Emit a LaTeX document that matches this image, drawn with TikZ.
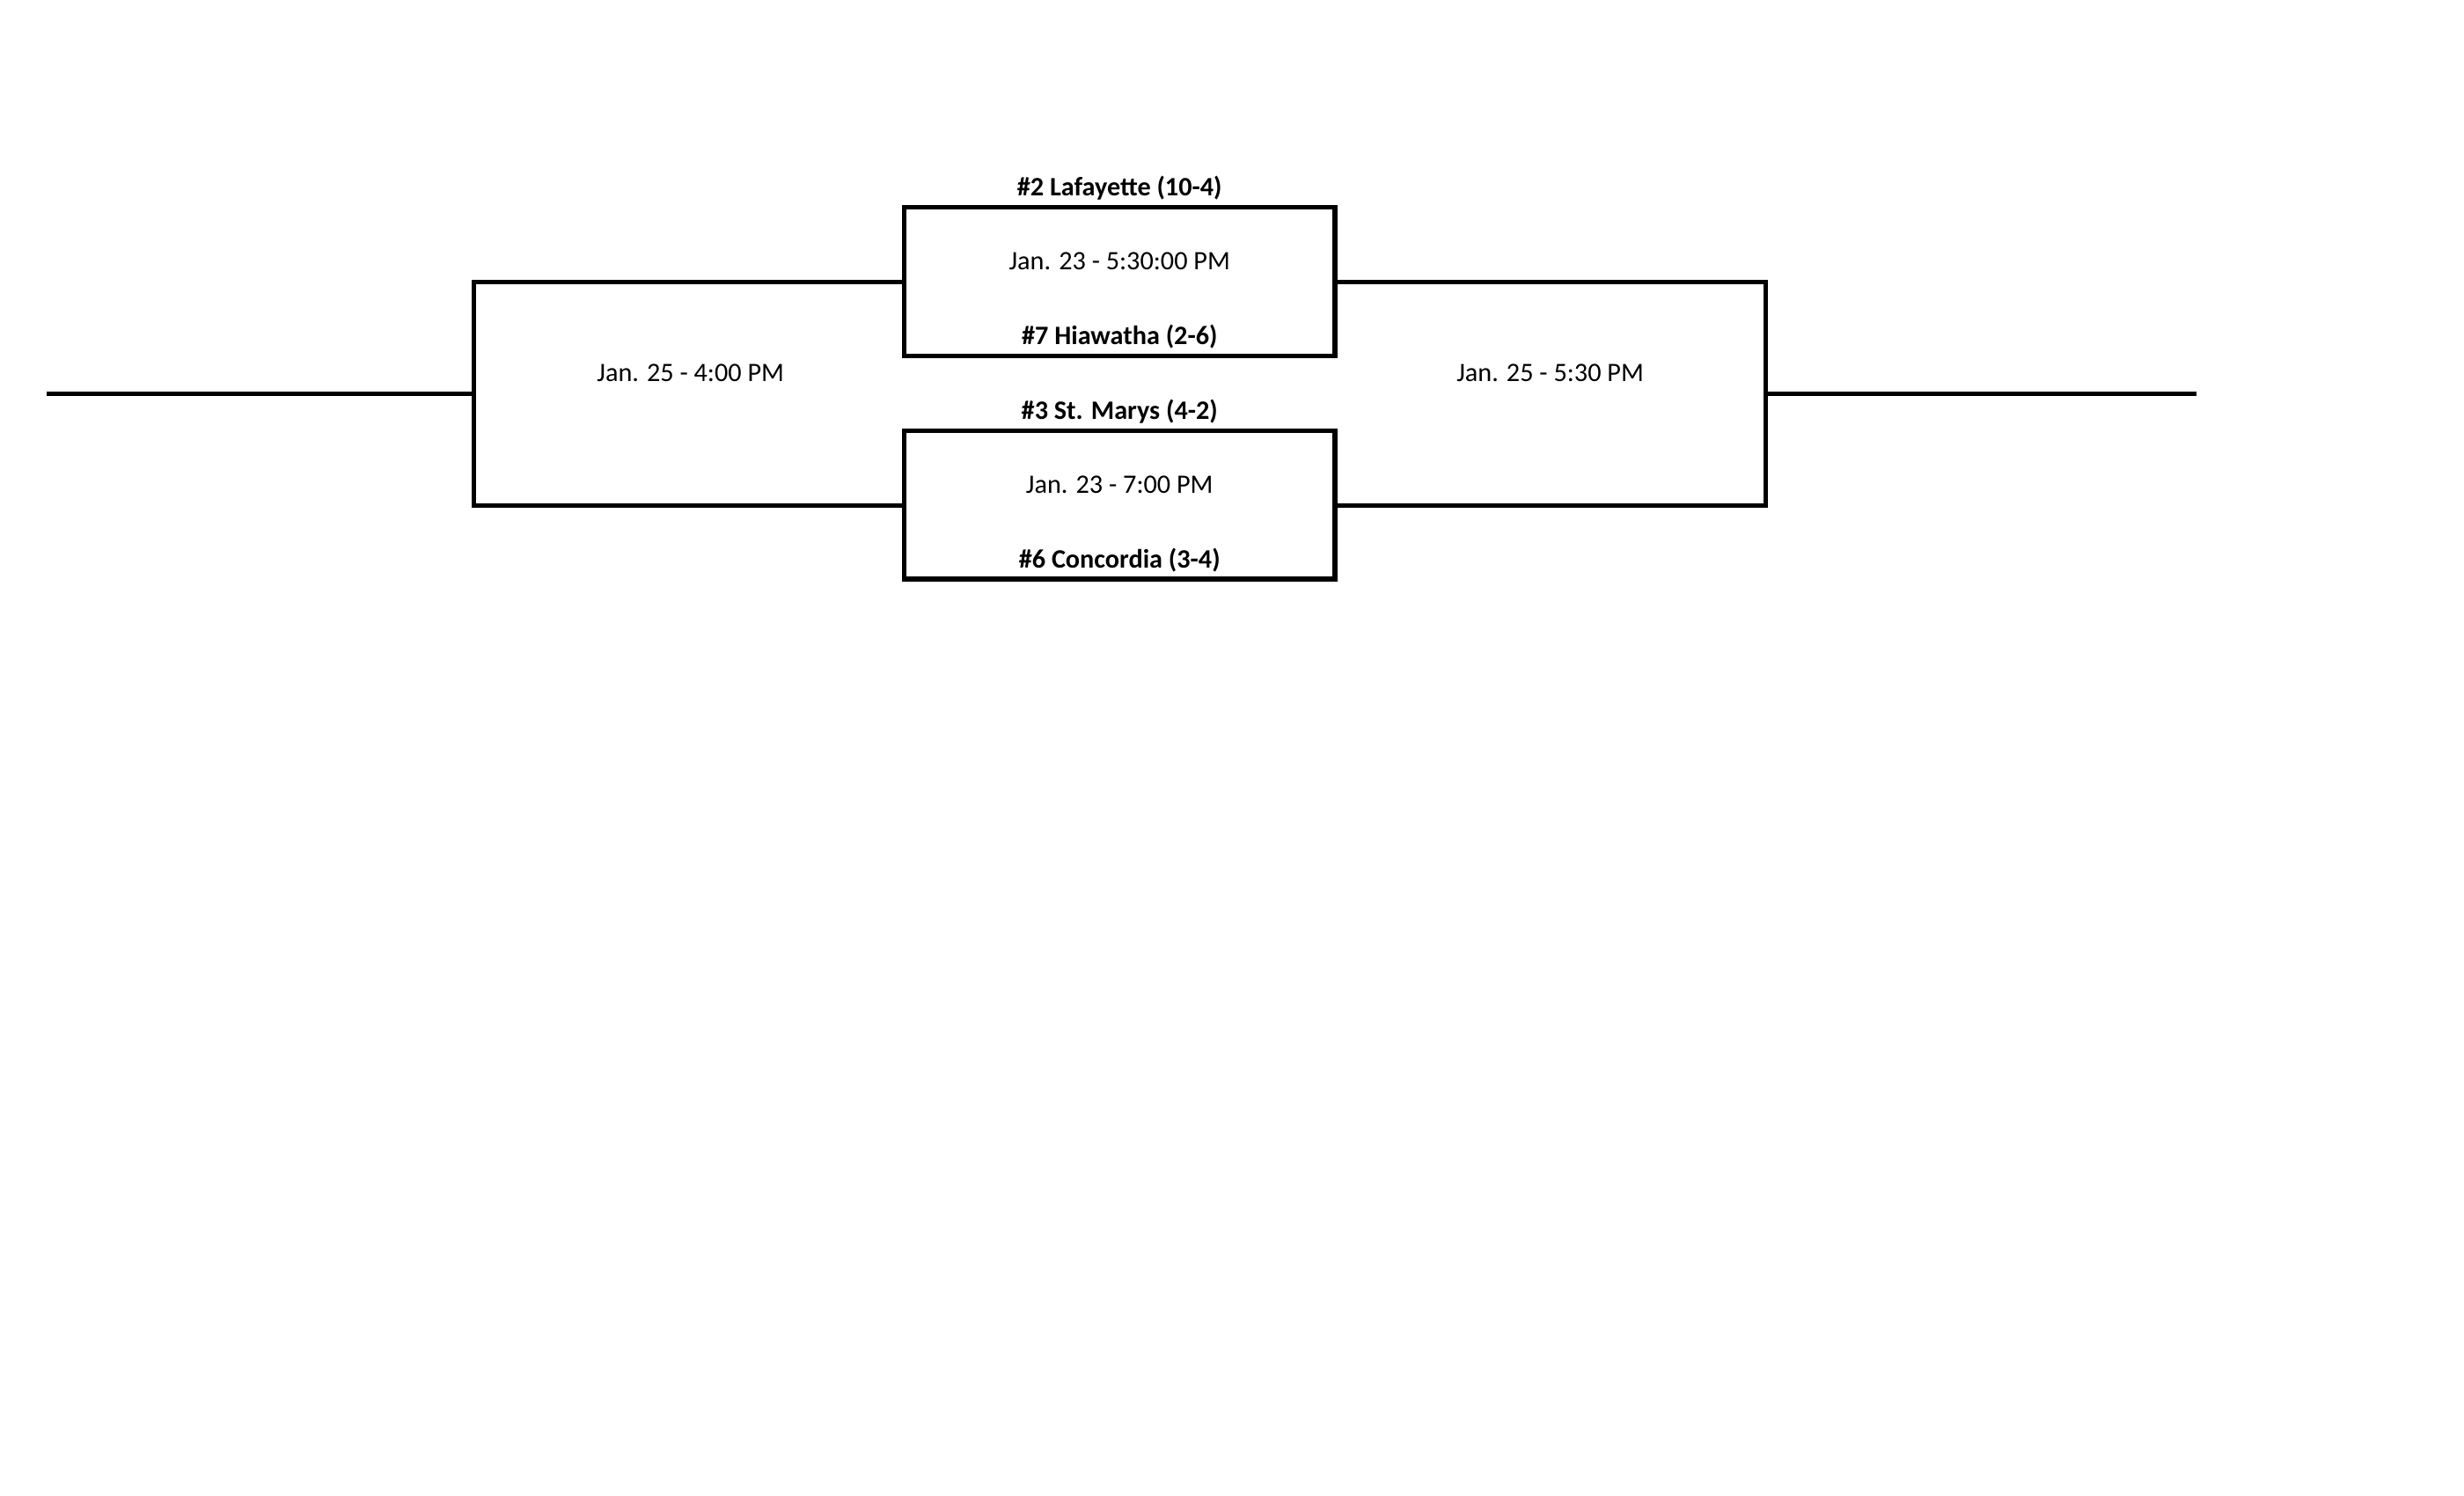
\documentclass[tikz,border=0pt]{standalone}
\usepackage{fontspec}
\setmainfont{Carlito}
\usetikzlibrary{positioning}
\begin{document}
\begin{tikzpicture}[
        x = 0.018123cm, y = -0.018123cm,
        font = \fontsize{8.6}{10}\selectfont,
        outer sep = 0mm, inner sep = 0mm,
        line width = 1.5pt,
        game/.style = {
          rectangle, draw = black, line width = 1.5pt,
          minimum width = 270*0.018123cm, minimum height = 93*0.018123cm,
        },
        team/.style = {font = \fontsize{8.6}{10}\selectfont\bfseries},
      ]
      \useasboundingbox (0,0) rectangle (1545,938);

      % first round
      \node[game] (G1) at (702,176.5) {};
      \node at (702,164) {Jan. 23 - 5:30:00 PM};
      \node[team] (T2) at (702,118) {\#2 Lafayette (10-4)};
      \node[team] (T7) at (702,211) {\#7 Hiawatha (2-6)};

      \node[game] (G2) at (702,316.5) {};
      \node at (702,304) {Jan. 23 - 7:00 PM};
      \node[team] (T3) at (702,258) {\#3 St. Marys (4-2)};
      \node[team] (T6) at (702,351) {\#6 Concordia (3-4)};

      % second round
      \coordinate (LT) at (297,177);
      \coordinate (LB) at (297,317);
      \coordinate (LM) at (297,247);
      \coordinate (RT) at (1107,177);
      \coordinate (RB) at (1107,317);
      \coordinate (RM) at (1107,247);
      \coordinate (LE) at (29,247);
      \coordinate (RE) at (1377,247);

      \draw (G1.west |- LT) -- (LT) -- (LB) -- (G2.west |- LB);
      \draw (G1.east |- RT) -- (RT) -- (RB) -- (G2.east |- RB);
      \draw (LM) -- (LE);
      \draw (RM) -- (RE);

      \node (L) at (433,234) {Jan. 25 - 4:00 PM};
      \node (R) at (972,234) {Jan. 25 - 5:30 PM};
    \end{tikzpicture}
\end{document}
